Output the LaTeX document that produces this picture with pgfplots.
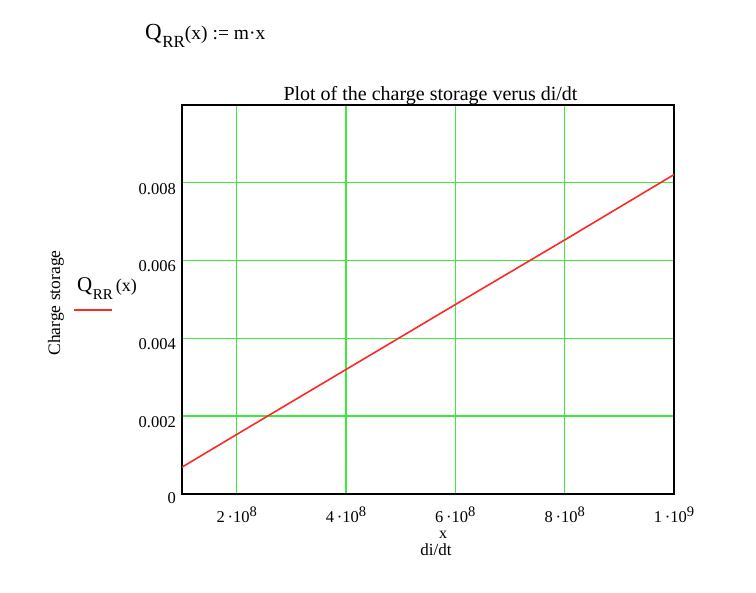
\documentclass[border=0pt]{standalone}
\usepackage{fontspec}
\setmainfont{Liberation Serif}
\usepackage{pgfplots}
\pgfplotsset{compat=1.18}

\definecolor{gridgreen}{RGB}{60,235,60}
\definecolor{qred}{RGB}{255,40,40}

\newcommand{\tl}[2]{#1\,·10\raisebox{6pt}{\fontsize{14.5}{14.5}\selectfont #2}}
\newcommand{\QRR}[2]{{\fontsize{#1}{#1}\selectfont Q}\kern0.5pt\raisebox{-8pt}{\fontsize{#2}{#2}\selectfont RR}}

\begin{document}
\begin{tikzpicture}[x=1pt,y=1pt]
\path[use as bounding box] (0,0) rectangle (756,593);

\begin{axis}[
	at={(182pt,99pt)}, anchor=south west,
	scale only axis,
	width=492pt, height=389pt,
	xmin=1e8, xmax=1e9,
	ymin=0, ymax=0.01,
	xtick={2e8,4e8,6e8,8e8,1e9},
	xticklabels={\tl{2}{8},\tl{4}{8},\tl{6}{8},\tl{8}{8},\tl{1}{9}},
	ytick={0,0.002,0.004,0.006,0.008},
	yticklabels={\raisebox{4pt}{0},0.002,0.004,0.006,0.008},
	major tick length=0pt,
	scaled ticks=false,
	axis line style={black, line width=2pt},
	grid=major,
	major grid style={gridgreen, line width=1.4pt},
	xticklabel style={font=\fontsize{16.5}{18}\selectfont, anchor=base, inner sep=0pt, yshift=-29pt},
	yticklabel style={font=\fontsize{16.5}{18}\selectfont, anchor=east, inner sep=0pt, xshift=-6pt, yshift=-6pt},
	clip=true,
]
\addplot[qred, line width=1.6pt] coordinates {
	(1e8,0.00069) (2e8,0.00153) (4e8,0.00320) (6e8,0.00487) (8e8,0.00653) (1e9,0.00821)
};
\end{axis}

% title and formula
\node[anchor=base, inner sep=0pt, font=\fontsize{20}{22}\selectfont] at (430.5,492) {Plot of the charge storage verus di/dt};
\node[anchor=base west, inner sep=0pt] at (145,553)
	{\QRR{23}{17}\fontsize{19.5}{22}\selectfont(x) := m·x};

% axis labels
\node[anchor=base, inner sep=0pt, font=\fontsize{16}{18}\selectfont] at (443,54) {x};
\node[anchor=base, inner sep=0pt, font=\fontsize{17}{18}\selectfont] at (436,37) {di/dt};
\node[rotate=90, inner sep=0pt, font=\fontsize{17.5}{20}\selectfont] at (56,290) {Charge storage};

% legend entry
\node[anchor=base west, inner sep=0pt] at (77,301)
	{\QRR{21}{15}\fontsize{18}{20}\selectfont\,(x)};
\draw[qred, line width=1.6pt] (74,283) -- (112,283);
\end{tikzpicture}
\end{document}
